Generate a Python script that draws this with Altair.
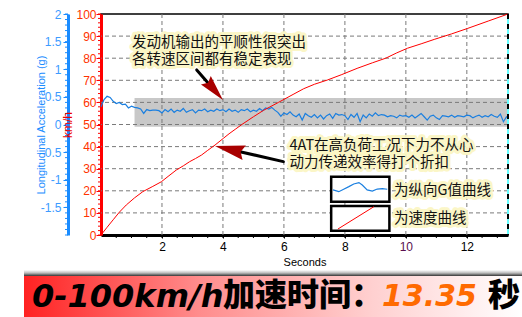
import altair as alt
import pandas as pd

CJK = "Noto Sans CJK SC"
LAT = "Liberation Sans"

# ---------------- data ----------------
speed_t = [0, 0.2, 0.4, 0.6, 0.83, 1.1, 1.37, 1.7, 1.98, 2.2, 2.47, 2.7, 2.91, 3.1, 3.3,
           3.5, 3.74, 4.01, 4.2, 4.4, 4.62, 5.0, 5.33, 5.82, 6.3, 6.65, 7.0, 7.42, 7.9,
           8.4, 8.9, 9.34, 9.7, 10.05, 10.5, 10.93, 11.5, 12.03, 12.7, 13.35]
speed_kmh = [0, 3.5, 6.9, 10.3, 13.6, 16.8, 19.6, 22.0, 24.1, 26.5, 29.4, 31.3, 33.2, 34.6,
             36.2, 38.3, 40.7, 43.7, 45.8, 47.8, 50.0, 53.5, 56.4, 60.0, 63.6, 66.2, 68.2,
             70.1, 72.6, 75.4, 77.9, 80.0, 82.4, 84.5, 86.5, 88.5, 91.0, 93.5, 96.8, 100]

g_step = 0.1
g_values = [
    0.32, 0.45, 0.51, 0.49, 0.42, 0.38, 0.40, 0.36, 0.37, 0.30,
    0.33, 0.31, 0.30, 0.28, 0.20, 0.27, 0.25, 0.26, 0.26, 0.25,
    0.21, 0.27, 0.23, 0.28, 0.22, 0.26, 0.24, 0.29, 0.22, 0.25,
    0.27, 0.21, 0.26, 0.25, 0.28, 0.23, 0.26, 0.24, 0.28, 0.25,
    0.27, 0.23, 0.28, 0.24, 0.26, 0.22, 0.27, 0.25, 0.28, 0.23,
    0.26, 0.24, 0.29, 0.25, 0.30, 0.28, 0.31, 0.26, 0.22, 0.15,
    0.21, 0.18, 0.23, 0.17, 0.14, 0.19, 0.08, 0.20, 0.16, 0.13,
    0.18, 0.12, 0.17, 0.10, 0.16, 0.19, 0.11, 0.20, 0.17, 0.18,
    0.16, 0.09, 0.18, 0.13, 0.20, 0.05, 0.17, 0.12, 0.19, 0.15,
    0.21, 0.16, 0.18, 0.17, 0.14, 0.16, 0.15, 0.12, 0.17, 0.15,
    0.16, 0.13, 0.17, 0.12, 0.16, 0.20, 0.14, 0.08, 0.15, 0.17,
    0.12, 0.09, 0.16, 0.15, 0.14, 0.17, 0.13, 0.16, 0.15, 0.14,
    0.17, 0.16, 0.12, 0.15, 0.17, 0.13, 0.16, 0.14, 0.18, 0.15,
    0.13, 0.19, 0.05, 0.14,
]
g_end_t = 13.35
g_end_value = 0.12

box_t = [1.1, 13.35]
box_kmh = [49, 62]

ann1_lines = ["发动机输出的平顺性很突出", "各转速区间都有稳定表现"]
ann1_t = 1.02
ann1_kmh = [87.0, 79.2]
ann2_lines = ["4AT在高负荷工况下力不从心", "动力传递效率得打个折扣"]
ann2_t = 6.18
ann2_kmh = [40.3, 32.7]

legend_labels = ["为纵向G值曲线", "为速度曲线"]
legend_text_t = 9.61
legend_text_kmh = [20.0, 7.1]
legend_box_t = [7.55, 9.46]
legend_box_lo = [15.1, 1.9]
legend_box_hi = [26.4, 13.1]
legend_g_t = [7.61, 7.80, 7.96, 8.13, 8.29, 8.46, 8.57, 8.73, 8.90, 9.06, 9.23, 9.39]
legend_g_kmh = [20.4, 19.6, 20.7, 21.9, 23.1, 23.7, 22.6, 20.4, 19.9, 20.8, 21.0, 20.7]
legend_speed_t = [7.77, 8.95]
legend_speed_kmh = [2.7, 12.8]

arrow_tail_t = [3.14, 5.98]
arrow_tail_kmh = [74.7, 33.2]
arrow_neck_t = [3.57, 4.56]
arrow_neck_kmh = [67.9, 37.7]
arrow_tip_t = [4.0, 3.74]
arrow_tip_kmh = [61.1, 40.3]
arrow_angle = [49, 193]
arrow_size = [676, 900]

km_ticks = list(range(0, 101, 10))
g_ticks = [-1.5, -1, -0.5, 0, 0.5, 1, 1.5, 2]
x_ticks = [2, 4, 6, 8, 10, 12]

banner_prefix = "0-100km/h"
banner_middle = "加速时间："
banner_value = "13.35"
banner_unit = "秒"

# ---------------- tables ----------------
speed_df = pd.DataFrame({"t": speed_t, "v": speed_kmh})
g_t = [round(i * g_step, 2) for i in range(len(g_values))] + [g_end_t]
g_df = pd.DataFrame({"t": g_t, "g": g_values + [g_end_value]})
box_df = pd.DataFrame({"t1": [box_t[0]], "t2": [box_t[1]], "v1": [box_kmh[0]], "v2": [box_kmh[1]]})
ann_df = pd.DataFrame({
    "t": [ann1_t, ann1_t, ann2_t, ann2_t],
    "v": ann1_kmh + ann2_kmh,
    "txt": ann1_lines + ann2_lines,
})
leg_txt_df = pd.DataFrame({"t": [legend_text_t] * 2, "v": legend_text_kmh, "txt": legend_labels})
leg_box_df = pd.DataFrame({"t1": [legend_box_t[0]] * 2, "t2": [legend_box_t[1]] * 2,
                           "v1": legend_box_lo, "v2": legend_box_hi})
leg_g_df = pd.DataFrame({"t": legend_g_t, "v": legend_g_kmh})
leg_s_df = pd.DataFrame({"t": legend_speed_t, "v": legend_speed_kmh})
arrow_df = pd.DataFrame({"t1": arrow_tail_t, "v1": arrow_tail_kmh, "t2": arrow_neck_t,
                         "v2": arrow_neck_kmh, "tt": arrow_tip_t, "vt": arrow_tip_kmh,
                         "ang": arrow_angle, "sz": arrow_size})
ygrid_df = pd.DataFrame({"v": km_ticks[1:-1]})
xgrid_df = pd.DataFrame({"t": x_ticks})
km_minor_df = pd.DataFrame({"v": list(range(0, 101, 2))})
g_minor_df = pd.DataFrame({"g": [round(-2 + 0.1 * i, 2) for i in range(41)]})
x_minor_df = pd.DataFrame({"t": [0.5 * i for i in range(1, 27)]})
one = pd.DataFrame({"a": [0]})

# ---------------- scales / axes ----------------
xscale = alt.Scale(domain=[0, 13.35], nice=False, zero=False)
kmscale = alt.Scale(domain=[0, 100], nice=False)
gscale = alt.Scale(domain=[-2, 2], nice=False)

xaxis = alt.Axis(title="Seconds", values=x_ticks, grid=False, domainColor="black",
                 domainWidth=3, tickColor="black", tickSize=3, labelFont=LAT,
                 labelFontSize=12, labelPadding=3,
                 labelColor={"condition": {"test": "datum.value == 10", "value": "#5a1050"},
                             "value": "black"},
                 titleFont=LAT, titleFontSize=11, titleFontWeight="normal",
                 titleColor="black", titlePadding=4)
kmaxis = alt.Axis(title=None, values=km_ticks, grid=False, domainColor="#ff0000",
                  domainWidth=3, tickColor="#ff0000", tickSize=5, labelColor="#ff3300",
                  labelFont=LAT, labelFontSize=12, labelPadding=0)
gaxis = alt.Axis(title=None, orient="left", offset=33, values=g_ticks,
                 labelExpr="'' + datum.value", grid=False, domainColor="#1a8cff",
                 domainWidth=3, tickColor="#1a8cff", tickSize=5, labelColor="#3d9bff",
                 labelFont=LAT, labelFontSize=12, labelPadding=2)


def X(f):
    return alt.X(f, type="quantitative", scale=xscale, axis=xaxis)


def YK(f, axis=None):
    return alt.Y(f, type="quantitative", scale=kmscale, axis=axis)


# ---------------- layer A: km/h (background) ----------------
box = alt.Chart(box_df).mark_rect(color="#c8c8c8").encode(
    x=X("t1"), x2="t2", y=YK("v1", kmaxis), y2="v2")
ygrid = alt.Chart(ygrid_df).mark_rule(color="#7a7a7a", strokeDash=[4, 3], strokeWidth=1).encode(
    y=YK("v", kmaxis))
xgrid = alt.Chart(xgrid_df).mark_rule(color="#7a7a7a", strokeDash=[4, 3], strokeWidth=1).encode(
    x=X("t"))
km_minor = alt.Chart(km_minor_df).mark_rule(color="#ff0000", strokeWidth=1).encode(
    y=YK("v", kmaxis), x=alt.value(-3), x2=alt.value(0))
layerA = alt.layer(box, ygrid, xgrid, km_minor)

# ---------------- layer B: g ----------------
gline = alt.Chart(g_df).mark_line(color="#1a7fe0", strokeWidth=1.2).encode(
    x=X("t"), y=alt.Y("g", type="quantitative", scale=gscale, axis=gaxis))
g_minor = alt.Chart(g_minor_df).mark_rule(color="#1a8cff", strokeWidth=1).encode(
    y=alt.Y("g", type="quantitative", scale=gscale, axis=gaxis),
    x=alt.value(-36), x2=alt.value(-33))
layerB = alt.layer(gline, g_minor)

# ---------------- layer C: km/h (foreground) ----------------
sline = alt.Chart(speed_df).mark_line(color="#ff0000", strokeWidth=1).encode(
    x=X("t"), y=YK("v"))
shafts = alt.Chart(arrow_df).mark_rule(color="black", strokeWidth=3, strokeCap="round").encode(
    x=X("t1"), y=YK("v1"), x2="t2", y2="v2")
heads = alt.Chart(arrow_df).mark_point(
    shape="M0,0L-2,-0.5L-1.75,0L-2,0.5Z", filled=True, color="#a80000", opacity=1,
    strokeWidth=0).encode(
    x=X("tt"), y=YK("vt"), angle=alt.Angle("ang", scale=None), size=alt.Size("sz", scale=None))


def glow_text(df, size):
    glow = alt.Chart(df).mark_text(align="left", baseline="middle", font=CJK, fontSize=size,
                                   color="#fbf6c2", stroke="#fbf6c2", strokeWidth=6,
                                   strokeJoin="round", opacity=0.9).encode(
        x=X("t"), y=YK("v"), text="txt")
    txt = alt.Chart(df).mark_text(align="left", baseline="middle", font=CJK, fontSize=size,
                                  color="#111111").encode(x=X("t"), y=YK("v"), text="txt")
    return [glow, txt]


leg_boxes = alt.Chart(leg_box_df).mark_rect(fill="white", stroke="black", strokeWidth=2.5).encode(
    x=X("t1"), x2="t2", y=YK("v1"), y2="v2")
leg_g = alt.Chart(leg_g_df).mark_line(color="#1a7fe0", strokeWidth=1.2).encode(x=X("t"), y=YK("v"))
leg_s = alt.Chart(leg_s_df).mark_line(color="#ff0000", strokeWidth=1).encode(x=X("t"), y=YK("v"))

x_minor = alt.Chart(x_minor_df).mark_rule(color="black", strokeWidth=1).encode(
    x=X("t"), y=alt.value(221), y2=alt.value(224))
right_cyan = alt.Chart(one).mark_rule(color="#66ffff", strokeWidth=2).encode(
    x=alt.value(407), y=alt.value(0), y2=alt.value(221))
right_dash = alt.Chart(one).mark_rule(color="black", strokeWidth=2, strokeDash=[5, 5]).encode(
    x=alt.value(407), y=alt.value(0), y2=alt.value(221))

g_title = alt.Chart(one).mark_text(text="Longitudinal Acceleration (g)", angle=270, font=LAT,
                                   fontSize=11, color="#1a8cff", baseline="middle",
                                   align="center").encode(x=alt.value(-59), y=alt.value(111))
km_title = alt.Chart(one).mark_text(text="km/h", angle=270, font=LAT, fontSize=12,
                                    color="#ee0000", baseline="middle",
                                    align="center").encode(x=alt.value(-33), y=alt.value(111))

shadow = alt.Chart(one).mark_rect(color=alt.LinearGradient(
    gradient="linear", x1=0, x2=0, y1=0, y2=1,
    stops=[alt.GradientStop(color="#ffffff", offset=0),
           alt.GradientStop(color="#bbbbbb", offset=0.5),
           alt.GradientStop(color="#333333", offset=1)])).encode(
    x=alt.value(-77), x2=alt.value(421), y=alt.value(256), y2=alt.value(262))
banner = alt.Chart(one).mark_rect(color=alt.LinearGradient(
    gradient="linear", x1=0, x2=1, y1=0, y2=0,
    stops=[alt.GradientStop(color="#ff2222", offset=0),
           alt.GradientStop(color="#ff8c8c", offset=0.35),
           alt.GradientStop(color="#ffd0d0", offset=0.7),
           alt.GradientStop(color="#ffffff", offset=1)])).encode(
    x=alt.value(-77), x2=alt.value(421), y=alt.value(262), y2=alt.value(303))
b1 = alt.Chart(one).mark_text(text=banner_prefix, font="DejaVu Sans", fontSize=32,
                              fontWeight="bold", fontStyle="italic", color="black",
                              align="left", baseline="middle").encode(
    x=alt.value(-69), y=alt.value(283))
b2 = alt.Chart(one).mark_text(text=banner_middle, font=CJK, fontSize=32, fontWeight=900,
                              color="black", align="left", baseline="middle").encode(
    x=alt.value(122), y=alt.value(282))
b3 = alt.Chart(one).mark_text(text=banner_value, font="DejaVu Sans", fontSize=30,
                              fontWeight="bold", fontStyle="italic", color="#ff6a00",
                              align="left", baseline="middle").encode(
    x=alt.value(281), y=alt.value(283))
b4 = alt.Chart(one).mark_text(text=banner_unit, font=CJK, fontSize=32, fontWeight=900,
                              color="black", align="left", baseline="middle").encode(
    x=alt.value(387), y=alt.value(282))

layerC = alt.layer(
    sline, shafts, heads,
    *glow_text(ann_df, 14.5),
    leg_boxes, leg_g, leg_s,
    *glow_text(leg_txt_df, 14.5),
    x_minor, right_cyan, right_dash, g_title, km_title,
    shadow, banner, b1, b2, b3, b4,
)

chart = alt.layer(layerA, layerB, layerC).resolve_scale(y="independent").properties(
    width=407, height=221,
    autosize=alt.AutoSizeParams(type="none"),
    padding={"left": 101, "top": 14, "right": 14, "bottom": 82},
).configure_view(stroke="black", strokeWidth=1.5)

chart.save("out.html", embed_options={"renderer": "svg", "actions": False})
